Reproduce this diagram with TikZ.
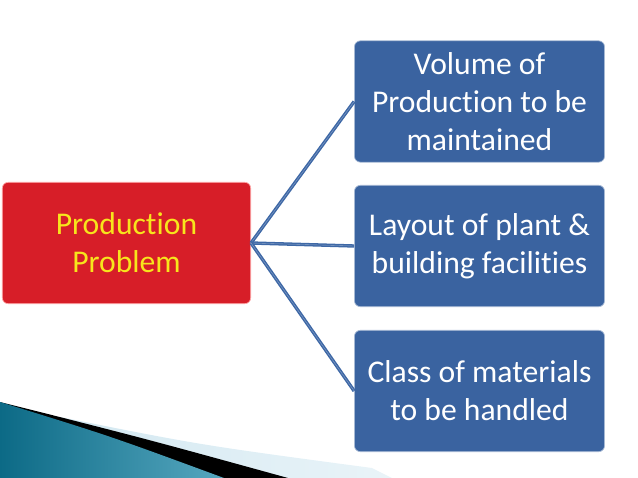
\documentclass[tikz,border=0pt]{standalone}
\usepackage{fontspec}
\setmainfont{Carlito}[Ligatures={NoCommon}]
\usepackage{tikz}
\usetikzlibrary{shadings}

\definecolor{probred}{HTML}{D71E28}
\definecolor{probyellow}{HTML}{F7E51C}
\definecolor{factorblue}{HTML}{3A63A0}
\definecolor{linkblue}{HTML}{3E68A6}
\definecolor{swoosh}{HTML}{1E8AAA}
\definecolor{swooshdark}{HTML}{0C6A86}
\definecolor{swooshlight}{HTML}{CFE6F0}

\tikzset{
  probbox/.style={draw=red!35, line width=0.6pt, fill=probred, rounded corners=5pt,
    minimum width=7.45cm, minimum height=3.64cm, align=center, text=probyellow,
    font=\fontsize{27}{32.5}\selectfont},
  factorbox/.style={draw=factorblue!45, line width=0.6pt, fill=factorblue, rounded corners=5pt,
    minimum width=7.5cm, minimum height=3.64cm, align=center, text=white,
    font=\fontsize{27}{32.5}\selectfont},
  link/.style={draw=linkblue, line width=1.3pt, double=linkblue!60, double distance=0.3pt}
}

\begin{document}
\begin{tikzpicture}[x=0.03cm,y=-0.03cm]
\useasboundingbox (0,0) rectangle (638,478);
% corner decoration
\shade[left color=swooshlight, right color=swooshlight!45] (60,417) .. controls (200,445) .. (372,468) -- (392,478) -- (0,478) -- (0,410) -- cycle;
\fill[black] (0,402) -- (40,412) .. controls (150,440) .. (288,478) -- (0,478) -- cycle;
\shade[left color=swooshdark, right color=swoosh!75] (0,402) .. controls (110,436) .. (224,478) -- (0,478) -- cycle;

% boxes
\node[probbox] (prob) at (126.5,243) {Production\\Problem};
\node[factorbox] (volume) at (479.5,101.5) {Volume of\\Production to be\\maintained};
\node[factorbox] (layout) at (479.5,246) {Layout of plant \&\\building facilities};
\node[factorbox] (materials) at (479.5,391) {Class of materials\\to be handled};

% connectors
\draw[link] (prob.east) -- (volume.west);
\draw[link] (prob.east) -- (layout.west);
\draw[link] (prob.east) -- (materials.west);
\end{tikzpicture}
\end{document}
